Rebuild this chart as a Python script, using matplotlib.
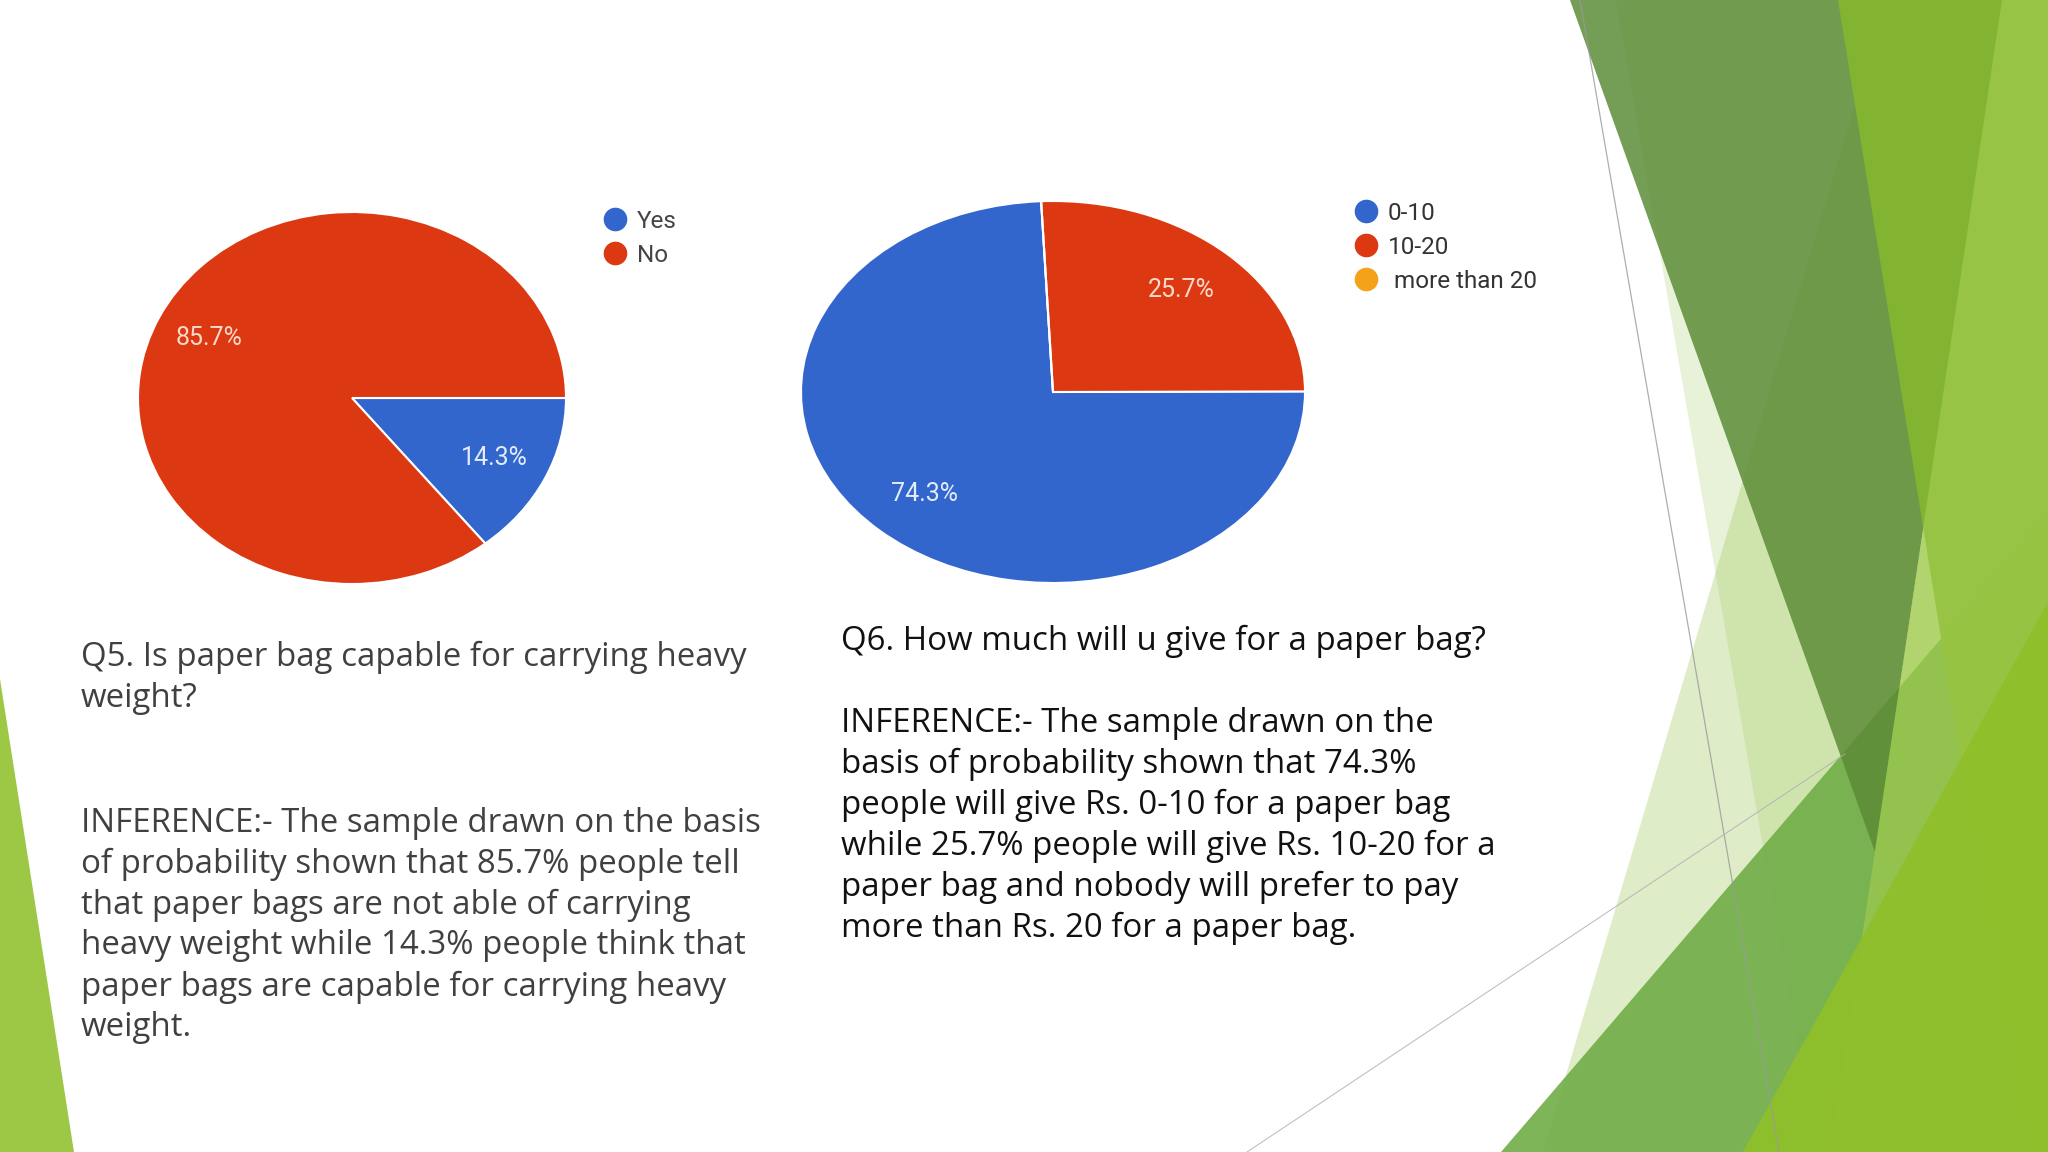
import matplotlib
matplotlib.use("Agg")
import matplotlib.pyplot as plt
from matplotlib.patches import Polygon
from matplotlib.lines import Line2D

# ---- data ----
q5_labels = ["Yes", "No"]
q5_values = [14.3, 85.7]
q6_labels = ["0-10", "10-20", " more than 20"]
q6_values = [74.3, 25.7, 0.0]

q5_lines = [
    "Q5. Is paper bag capable for carrying heavy",
    "weight?",
]
q5_inference = [
    "INFERENCE:- The sample drawn on the basis",
    "of probability shown that 85.7% people tell",
    "that paper bags are not able of carrying",
    "heavy weight while 14.3% people think that",
    "paper bags are capable for carrying heavy",
    "weight.",
]
q6_lines = ["Q6. How much will u give for a paper bag?"]
q6_inference = [
    "INFERENCE:- The sample drawn on the",
    "basis of probability shown that 74.3%",
    "people will give Rs. 0-10 for a paper bag",
    "while 25.7% people will give Rs. 10-20 for a",
    "paper bag and nobody will prefer to pay",
    "more than Rs. 20 for a paper bag.",
]

BLUE = "#3366cc"
RED = "#dc3912"
ORANGE = "#f5a21b"

W, H = 2048, 1152
fig = plt.figure(figsize=(W / 100, H / 100), dpi=100)
fig.patch.set_facecolor("white")

# background axes in pixel coordinates
bg = fig.add_axes([0, 0, 1, 1])
bg.set_xlim(0, W)
bg.set_ylim(H, 0)
bg.axis("off")

# slide decoration (Facet-like shapes)
shapes = [
    ([(0, 679), (74, 1152), (0, 1152)], "#9dc845", 1.0),
    ([(1616, 0), (2048, 0), (2048, 1152), (1816, 1152)], "#8fbe3c", 0.2),
    ([(1886, 0), (2048, 0), (2048, 1152), (1543, 1152)], "#8fbe3c", 0.28),
    ([(1501, 1152), (2048, 514), (2048, 1152)], "#70ad47", 0.9),
    ([(1570, 0), (2002, 0), (1875, 852)], "#5c8c37", 0.85),
    ([(1838, 0), (2048, 0), (2048, 1152), (2024, 1152)], "#84b530", 0.95),
    ([(2002, 0), (2048, 0), (2048, 1152), (1830, 1152)], "#a2cc4e", 0.65),
    ([(1743, 1152), (2048, 602), (2048, 1152)], "#8fbf2a", 0.95),
]
for pts, col, a in shapes:
    bg.add_patch(Polygon(pts, closed=True, facecolor=col, edgecolor="none", alpha=a))
bg.plot([1580, 1779], [0, 1152], color="#9a9a9a", lw=0.9, alpha=0.8)
bg.plot([1247, 1845], [1152, 754], color="#b0b0b0", lw=0.8, alpha=0.8)

# paragraphs
para_font = "Open Sans"
fs = 23.8
for i, s in enumerate(q5_lines):
    bg.text(81, 657 + i * 41.5, s, fontsize=fs, family=para_font, color="#404040", va="center")
for i, s in enumerate(q5_inference):
    bg.text(81, 823 + i * 41.0, s, fontsize=fs, family=para_font, color="#404040", va="center")
for i, s in enumerate(q6_lines):
    bg.text(841, 641, s, fontsize=fs, family=para_font, color="#111111", va="center")
for i, s in enumerate(q6_inference):
    bg.text(841, 723 + i * 41.0, s, fontsize=fs, family=para_font, color="#111111", va="center")


def pie_axes(cx, cy, rx, ry, clip_left=None):
    left = cx - rx if clip_left is None else clip_left
    ax = fig.add_axes([left / W, 1 - (cy + ry) / H, (cx + rx - left) / W, 2 * ry / H])
    return ax, (left - cx) / rx


def pct_fmt(p):
    return "" if p < 0.05 else "%.1f%%" % p


# Q5 pie
ax1, x0 = pie_axes(352, 398, 214, 186, clip_left=141)
w1, _, t1 = ax1.pie(q5_values, colors=[BLUE, RED], startangle=0, counterclock=False,
                    autopct=pct_fmt, pctdistance=0.74,
                    wedgeprops=dict(edgecolor="white", linewidth=1.5))
ax1.set_aspect("auto")
ax1.set_xlim(x0, 1)
ax1.set_ylim(-1, 1)
ax1.axis("off")
for t, c in zip(t1, ["#e3ecfa", "#fbd9cc"]):
    t.set_color(c)
    t.set_fontsize(18)
    t.set_family("Roboto")

# Q6 pie
ax2, _ = pie_axes(1053, 392, 252, 191)
w2, _, t2 = ax2.pie(q6_values, colors=[BLUE, RED, ORANGE], startangle=92.7, counterclock=True,
                    autopct=pct_fmt, pctdistance=0.74,
                    wedgeprops=dict(edgecolor="white", linewidth=1.5))
ax2.set_aspect("auto")
ax2.set_xlim(-1, 1)
ax2.set_ylim(-1, 1)
ax2.axis("off")
for t, c in zip(t2, ["#e3ecfa", "#fbd9cc", "white"]):
    t.set_color(c)
    t.set_fontsize(18)
    t.set_family("Roboto")


def legend(labels, colors, x, y, color, size):
    handles = [Line2D([], [], ls="none", marker="o", markersize=16, color=c) for c in colors]
    leg = fig.legend(handles, labels, loc="upper left", bbox_to_anchor=(x / W, 1 - y / H),
                     frameon=False, borderpad=0, borderaxespad=0, handlelength=1.0,
                     handletextpad=0.4, labelspacing=0.45,
                     prop={"family": "Roboto", "size": size})
    for t in leg.get_texts():
        t.set_color(color)
    return leg


legend(q5_labels, [BLUE, RED], 603, 210, "#444444", 17.5)
legend(q6_labels, [BLUE, RED, ORANGE], 1354, 202, "#333333", 17.5)

fig.savefig("out.png", dpi=100)
